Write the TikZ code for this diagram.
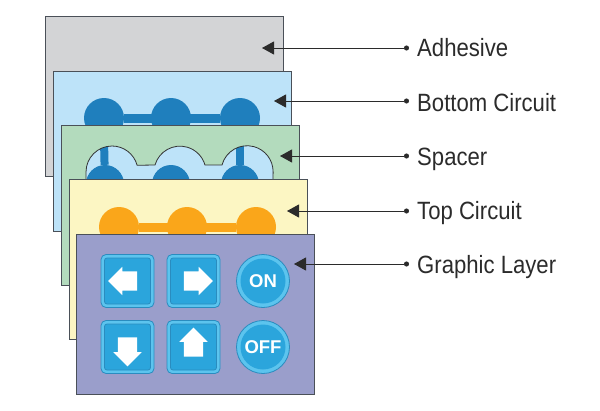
\documentclass[tikz,border=0pt]{standalone}
\usepackage{fontspec}
\setmainfont{Liberation Sans}
\newfontfamily\labelfont[FakeStretch=0.885]{Liberation Sans}
\usetikzlibrary{arrows.meta,shapes.arrows}
\definecolor{edgegray}{HTML}{4A5058}
\definecolor{adhesivecol}{HTML}{D3D4D6}
\definecolor{circuitcol}{HTML}{BDE3F9}
\definecolor{spacercol}{HTML}{B3DBBD}
\definecolor{topcol}{HTML}{FCF6C3}
\definecolor{graphiccol}{HTML}{9A9ECB}
\definecolor{padblue}{HTML}{1F7FBD}
\definecolor{padorange}{HTML}{FAA61A}
\definecolor{keyring}{HTML}{5CC4EE}
\definecolor{keyfill}{HTML}{2BA5DC}
\definecolor{keyedge}{HTML}{2A8CBF}
\definecolor{leadcol}{HTML}{2B2B2B}
\begin{document}
\begin{tikzpicture}[x=1pt,y=-1pt,
  layer/.style={draw=edgegray,line width=1pt,minimum width=238pt,minimum height=160pt,inner sep=0pt},
  bluepad/.style={circle,fill=padblue,minimum size=40pt,inner sep=0pt},
  lowpad/.style={circle,fill=padblue,minimum size=38pt,inner sep=0pt},
  orangepad/.style={circle,fill=padorange,minimum size=40pt,inner sep=0pt},
  keyouter/.style={rectangle,rounded corners=5pt,draw=keyedge,fill=keyring,line width=.8pt,minimum size=53pt,inner sep=0pt},
  keyinner/.style={rectangle,rounded corners=2.5pt,draw=keyedge,fill=keyfill,line width=.8pt,minimum size=46pt,inner sep=0pt},
  keyarrow/.style={single arrow,fill=white,minimum height=29pt,minimum width=28pt,inner sep=9.5pt,
    single arrow head extend=4.5pt,single arrow head indent=0pt},
  roundouter/.style={circle,draw=keyedge,fill=keyring,line width=.8pt,minimum size=53pt,inner sep=0pt},
  roundinner/.style={circle,fill=keyfill,font=\fontsize{18.5}{18.5}\selectfont\bfseries,text=white,minimum size=45pt,inner sep=0pt},
  leadtxt/.style={anchor=base west,inner sep=0pt,text=leadcol,font=\fontsize{25}{25}\labelfont},
  lead/.style={draw=leadcol,line width=.9pt,{Circle[length=5pt]}-{Triangle[length=12pt,width=13pt]}}]
\useasboundingbox (0,0) rectangle (600,410);
% adhesive
\node[layer,fill=adhesivecol] (adhesive) at (164,96) {};
% bottom circuit
\node[layer,fill=circuitcol] (bottom) at (172,151) {};
\node[bluepad] (b1) at (104,118) {};
\node[bluepad] (b2) at (171,118) {};
\node[bluepad] (b3) at (240,118) {};
\draw[padblue,line width=9pt] (b1) -- (b3);
% spacer with its cut out
\node[layer,fill=spacercol] (spacer) at (180,205) {};
\begin{scope}
\clip (86,185) -- (86,172) arc (180:345:26) -- (155,165) arc (196:344:26) -- (222,165) arc (195:360:26) -- (273,185) -- cycle;
\fill[circuitcol] (80,140) rectangle (280,190);
\node[lowpad] (c1) at (105,184) {};
\node[lowpad] (c2) at (171,184) {};
\node[lowpad] (c3) at (240,184) {};
\coordinate (s1) at (104,140);
\coordinate (s3) at (240,140);
\draw[padblue,line width=8pt] (s1) -- (c1);
\draw[padblue,line width=8pt] (s3) -- (c3);
\end{scope}
\draw[black!80,line width=.8pt] (86,185) -- (86,172) arc (180:345:26) -- (155,165) arc (196:344:26) -- (222,165) arc (195:360:26) -- (273,185);
% top circuit
\node[layer,fill=topcol] (top) at (188,259) {};
\node[orangepad] (t1) at (119,227) {};
\node[orangepad] (t2) at (187,227) {};
\node[orangepad] (t3) at (256,227) {};
\draw[padorange,line width=9pt] (t1) -- (t3);
% graphic layer
\node[layer,fill=graphiccol] (graphic) at (195,314) {};
\foreach \nm/\px/\py/\rot in {left/127.5/281/180,right/193.5/281/0,down/127.5/347/270,up/193.5/347/90}{
  \node[keyouter] (\nm o) at (\px,\py) {};
  \node[keyinner] (\nm i) at (\px,\py) {};
  \node[keyarrow,shape border rotate=\rot] (\nm a) at (\px,\py) {};
}
\node[roundouter] (ono) at (263,281) {};
\node[roundinner] (on) at (263,281) {ON};
\node[roundouter] (offo) at (263,347) {};
\node[roundinner] (off) at (263,347) {OFF};
% labels
\node[leadtxt] (ladh) at (417,56) {Adhesive};
\node[leadtxt] (lbot) at (417,111) {Bottom Circuit};
\node[leadtxt] (lspa) at (417,165) {Spacer};
\node[leadtxt] (ltop) at (417,219) {Top Circuit};
\node[leadtxt] (lgra) at (417,273) {Graphic Layer};
\coordinate (dadh) at (409,48);
\coordinate (dbot) at (409,101);
\coordinate (dspa) at (409,156);
\coordinate (dtop) at (409,211);
\coordinate (dgra) at (409,264);
\coordinate (tadh) at (262,48);
\coordinate (tbot) at (274,101);
\coordinate (tspa) at (280,156);
\coordinate (ttop) at (287,211);
\coordinate (tgra) at (294,264);
\draw[lead] (dadh) -- (tadh);
\draw[lead] (dbot) -- (tbot);
\draw[lead] (dspa) -- (tspa);
\draw[lead] (dtop) -- (ttop);
\draw[lead] (dgra) -- (tgra);
\end{tikzpicture}
\end{document}
